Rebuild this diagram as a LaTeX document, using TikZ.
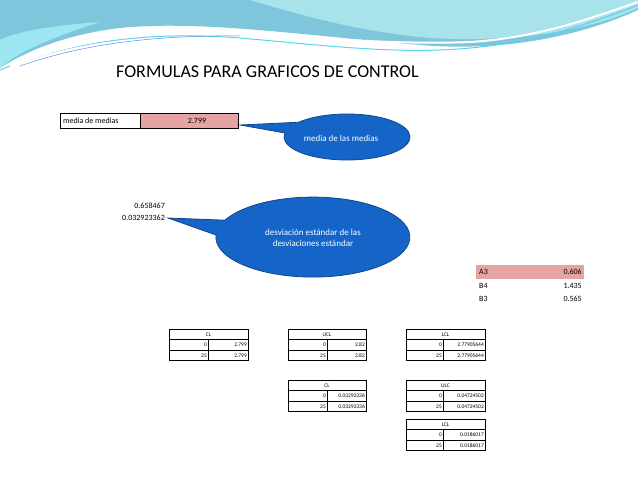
\documentclass[tikz,border=0pt]{standalone}
\usepackage{fontspec}
\setmainfont{Carlito}
\usetikzlibrary{calc}
\definecolor{pinkc}{HTML}{E6A3A3}
\definecolor{bubble}{HTML}{1565C8}
\definecolor{wave1}{HTML}{7FC6DC}
\definecolor{wave2}{HTML}{A8E2EA}
\definecolor{wave3}{HTML}{5AD4E8}
\tikzset{
  cell/.style={draw=black,line width=0.6pt},
  tiny/.style={font=\fontsize{5.5}{6}\selectfont,inner sep=1pt},
  small/.style={font=\fontsize{8}{9}\selectfont,inner sep=1pt},
  bub/.style={fill=bubble,draw=bubble!70!black,line width=0.8pt},
  bubtext/.style={text=white,font=\fontsize{9}{11}\selectfont,align=center}
}
\newcommand{\mytable}[9]{%
  \draw[cell] (#1,#4) rectangle (#3,#4+31.5);
  \draw[cell] (#1,#4+10.5) -- (#3,#4+10.5) (#1,#4+21) -- (#3,#4+21);
  \draw[cell] (#2,#4+10.5) -- (#2,#4+31.5);
  \node[tiny] at ({(#1+#3)/2},#4+5.5) {#5};
  \node[tiny,anchor=east] at (#2,#4+16) {#6};
  \node[tiny,anchor=east] at (#3,#4+16) {#7};
  \node[tiny,anchor=east] at (#2,#4+26.5) {#8};
  \node[tiny,anchor=east] at (#3,#4+26.5) {#9};
}
\begin{document}
\begin{tikzpicture}[x=1pt,y=-1pt]
\useasboundingbox (0,0) rectangle (638,478);
% banner
\fill[wave1] (0,0) -- (638,0) -- (638,10) .. controls (560,45) and (480,50) .. (420,45)
  .. controls (300,35) and (200,20) .. (120,28) .. controls (60,35) and (20,55) .. (0,68) -- cycle;
\fill[wave2] (250,0) -- (638,0) -- (638,8) .. controls (580,35) and (500,42) .. (430,38)
  .. controls (360,32) and (300,15) .. (250,0) -- cycle;
\fill[wave3!60] (0,40) .. controls (20,30) and (60,25) .. (100,22) .. controls (60,35) and (20,50) .. (0,68) -- cycle;
\draw[wave3,line width=1pt] (0,70) .. controls (60,45) and (140,30) .. (240,38)
  .. controls (320,45) and (400,55) .. (470,48) .. controls (540,42) and (600,20) .. (638,5);
\draw[white,line width=2pt] (10,66) .. controls (70,42) and (140,30) .. (230,33)
  .. controls (320,38) and (400,45) .. (470,42) .. controls (540,38) and (600,15) .. (638,2);
\draw[wave1!70!blue,line width=0.5pt] (20,66) .. controls (80,45) and (150,35) .. (240,36);
% title
\node[font=\fontsize{18}{20}\selectfont,anchor=west,inner sep=0] (title) at (116,72) {FORMULAS PARA GRAFICOS DE CONTROL};
% media de medias
\fill[pinkc] (140,113) rectangle (238,128);
\draw[cell] (60,113) rectangle (238,128) (140,113) -- (140,128);
\node[small,anchor=west] (mm) at (62,120.5) {media de medias};
\node[small] (mmv) at (197,120.5) {2.799};
% callout 1
\coordinate (tip1) at (240,125);
\draw[bub] (tip1) -- (285,133) arc[start angle=190,end angle=-140,x radius=63,y radius=23] -- cycle;
\node[bubtext] (b1) at (341,138) {media de las medias};
% values
\node[small,anchor=east] (v1) at (166,206) {0.658467};
\node[small,anchor=east] (v2) at (166,218) {0.032923362};
\coordinate (tip2) at (168,218);
\draw[bub] (tip2) -- (216,235) arc[start angle=183,end angle=-155,x radius=97,y radius=40] -- cycle;
\node[bubtext] (b2) at (313,238) {desviación estándar de las\\desviaciones estándar};
% A3 B4 B3
\fill[pinkc] (476,265) rectangle (584,279);
\node[small,anchor=west] (a3) at (478,272) {A3};
\node[small,anchor=east] (a3v) at (583,272) {0.606};
\node[small,anchor=west] (b4) at (478,285.5) {B4};
\node[small,anchor=east] (b4v) at (583,285.5) {1.435};
\node[small,anchor=west] (b3) at (478,299) {B3};
\node[small,anchor=east] (b3v) at (583,299) {0.565};
% tables
\mytable{169}{208}{248}{329}{CL}{0}{2.799}{25}{2.799}
\mytable{288}{327}{366}{329}{UCL}{0}{2.82}{25}{2.82}
\mytable{406}{443}{485}{329}{LCL}{0}{2.77905644}{25}{2.77905644}
\mytable{288}{327}{366}{380}{CL}{0}{0.03292336}{25}{0.03292336}
\mytable{406}{443}{485}{380}{ULC}{0}{0.04724502}{25}{0.04724502}
\mytable{406}{443}{485}{419}{LCL}{0}{0.0186017}{25}{0.0186017}
\end{tikzpicture}
\end{document}
